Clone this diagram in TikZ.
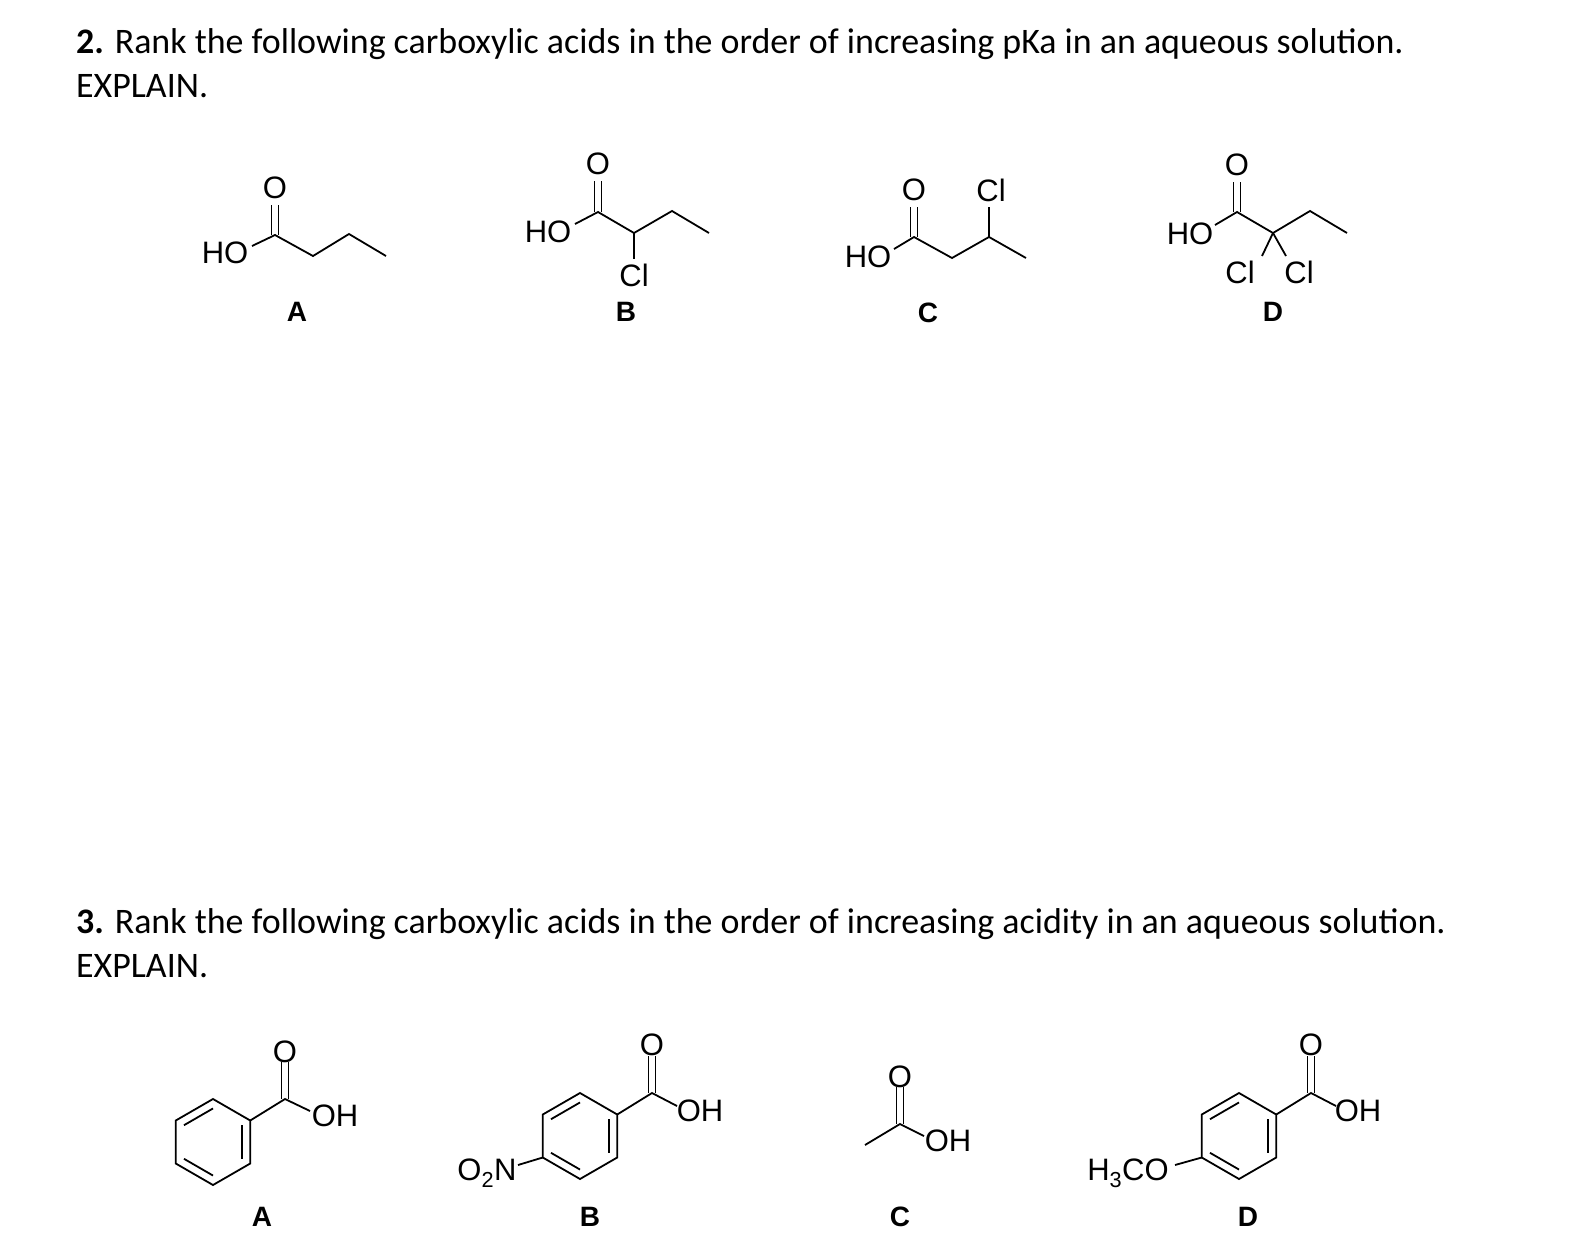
\documentclass[tikz,border=0pt]{standalone}
\usepackage{fontspec}
\setmainfont{Carlito}
\newfontfamily\ar{Liberation Sans}
\usetikzlibrary{calc}
\tikzset{
  bond/.style={line width=1.8pt},
  atom/.style={font=\ar\fontsize{31}{31}\selectfont, inner sep=1.5pt},
  lbl/.style={font=\ar\bfseries\fontsize{28}{28}\selectfont, inner sep=0pt},
  head/.style={font=\fontsize{35.9}{40}\selectfont, anchor=base west, inner sep=0pt}
}
\newcommand{\dbl}[2]{\draw[bond] ($(#1)+(-3.5,0)$) -- ($(#2)+(-3.5,0)$); \draw[bond] ($(#1)+(3.5,0)$) -- ($(#2)+(3.5,0)$);}
\newcommand{\ring}[2]{% name, center
  \foreach \a [count=\i] in {-90,-30,30,90,150,-150} {\coordinate (#1\i) at ($(#2)+(\a:43)$);}
  \draw[bond] (#11)--(#12)--(#13)--(#14)--(#15)--(#16)--cycle;
  \foreach \p/\q in {6/1,2/3,4/5} {\draw[bond] ($(#2)!0.78!(#1\p)$) -- ($(#2)!0.78!(#1\q)$);}
}
\begin{document}
\begin{tikzpicture}[x=1pt,y=-1pt]
\useasboundingbox (0,0) rectangle (1574,1258);
\node[head] (h2) at (76,53) {\textbf{2.} Rank the following carboxylic acids in the order of increasing pKa in an aqueous solution.};
\node[head] (h2b) at (76,97) {EXPLAIN.};
\node[head] (h3) at (76,933) {\textbf{3.} Rank the following carboxylic acids in the order of increasing acidity in an aqueous solution.};
\node[head] (h3b) at (76,977) {EXPLAIN.};

% ---- Top A
\node[atom] (aHO) at (225,253) {HO};
\node[atom] (aO) at (275,188) {O};
\coordinate (a1) at (275,235); \coordinate (a2) at (313,256); \coordinate (a3) at (349,234); \coordinate (a4) at (386,256);
\coordinate (aob) at (252,246); \coordinate (aot) at (275,205);
\draw[bond] (aob) -- (a1) -- (a2) -- (a3) -- (a4);
\dbl{a1}{aot}
\node[lbl] (aL) at (297,312) {A};

% ---- Top B
\node[atom] (bHO) at (548,232) {HO};
\node[atom] (bO) at (598,164) {O};
\node[atom] (bCl) at (634,275) {Cl};
\coordinate (b1) at (598,212); \coordinate (b2) at (634,233); \coordinate (b3) at (672,211); \coordinate (b4) at (709,233);
\coordinate (bob) at (575,224); \coordinate (bot) at (598,181); \coordinate (bcl) at (634,259);
\draw[bond] (bob) -- (b1) -- (b2) -- (b3) -- (b4);
\draw[bond] (b2) -- (bcl);
\dbl{b1}{bot}
\node[lbl] (bL) at (626,312) {B};

% ---- Top C
\node[atom] (cHO) at (868,257) {HO};
\node[atom] (cO) at (914,190) {O};
\node[atom] (cCl) at (991,190) {Cl};
\coordinate (c1) at (914,237); \coordinate (c2) at (952,258); \coordinate (c3) at (989,237); \coordinate (c4) at (1026,258);
\coordinate (cob) at (894,249); \coordinate (cot) at (914,207); \coordinate (ccl) at (989,207);
\draw[bond] (cob) -- (c1) -- (c2) -- (c3) -- (c4);
\draw[bond] (c3) -- (ccl);
\dbl{c1}{cot}
\node[lbl] (cL) at (928,313) {C};

% ---- Top D
\node[atom] (dHO) at (1190,234) {HO};
\node[atom] (dO) at (1237,165) {O};
\node[atom] (dCl1) at (1240,272) {Cl};
\node[atom] (dCl2) at (1299,272) {Cl};
\coordinate (d1) at (1237,212); \coordinate (d2) at (1273,233); \coordinate (d3) at (1310,211); \coordinate (d4) at (1347,233);
\coordinate (dob) at (1215,225); \coordinate (dot) at (1237,182);
\coordinate (dc1) at (1262,256); \coordinate (dc2) at (1286,256);
\draw[bond] (dob) -- (d1) -- (d2) -- (d3) -- (d4);
\draw[bond] (d2) -- (dc1); \draw[bond] (d2) -- (dc2);
\dbl{d1}{dot}
\node[lbl] (dL) at (1273,312) {D};

% ---- Bottom A
\coordinate (rA) at (213,1142);
\ring{ra}{rA}
\coordinate (ea) at (285,1099); \coordinate (eat) at (285,1062);
\node[atom] (eaO) at (285,1052) {O};
\node[atom] (eaOH) at (335,1116) {OH};
\coordinate (eaob) at (310,1111);
\draw[bond] (ra2) -- (ea) -- (eaob);
\dbl{ea}{eat}
\node[lbl] (eAL) at (262,1217) {A};

% ---- Bottom B
\coordinate (rB) at (580,1136);
\ring{rb}{rB}
\coordinate (eb) at (652,1093); \coordinate (ebt) at (652,1056);
\node[atom] (ebO) at (652,1045) {O};
\node[atom] (ebOH) at (700,1111) {OH};
\coordinate (ebob) at (677,1106);
\draw[bond] (rb2) -- (eb) -- (ebob);
\dbl{eb}{ebt}
\node[atom] (ebN) at (487,1173) {O\textsubscript{2}N};
\coordinate (ebnb) at (518,1165);
\draw[bond] (ebnb) -- (rb5);
\node[lbl] (eBL) at (590,1217) {B};

% ---- Bottom C
\coordinate (ec0) at (865,1145); \coordinate (ec) at (900,1124); \coordinate (ect) at (900,1087);
\node[atom] (ecO) at (900,1077) {O};
\node[atom] (ecOH) at (948,1141) {OH};
\coordinate (ecob) at (924,1136);
\draw[bond] (ec0) -- (ec) -- (ecob);
\dbl{ec}{ect}
\node[lbl] (eCL) at (900,1217) {C};

% ---- Bottom D
\coordinate (rD) at (1239,1136);
\ring{rd}{rD}
\coordinate (ed) at (1311,1093); \coordinate (edt) at (1311,1056);
\node[atom] (edO) at (1311,1045) {O};
\node[atom] (edOH) at (1358,1111) {OH};
\coordinate (edob) at (1336,1106);
\draw[bond] (rd2) -- (ed) -- (edob);
\dbl{ed}{edt}
\node[atom] (edM) at (1128,1173) {H\textsubscript{3}CO};
\coordinate (edmb) at (1175,1165);
\draw[bond] (edmb) -- (rd5);
\node[lbl] (eDL) at (1248,1217) {D};
\end{tikzpicture}
\end{document}
